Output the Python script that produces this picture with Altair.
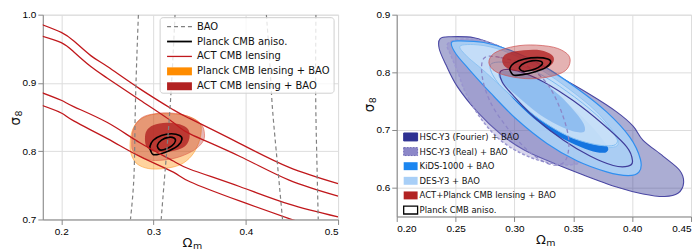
import altair as alt
import pandas as pd

FONT = "DejaVu Sans"

# ---------------- Left panel data (Omega_m, sigma_8) ----------------
BAO_1 = [(0.2836, 1.0), (0.2803, 0.865), (0.2789, 0.767), (0.2750, 0.70)]
BAO_2 = [(0.3233, 1.0), (0.3183, 0.872), (0.3123, 0.767), (0.3083, 0.70)]
BAO_3 = [(0.4223, 1.0), (0.4260, 0.93), (0.4285, 0.87), (0.4330, 0.80), (0.4398, 0.70)]
BAO_4 = [(0.4760, 1.0), (0.4757, 0.89), (0.4768, 0.80), (0.4785, 0.70)]

ACT_LENS_A = [(0.178, 0.986), (0.200, 0.974), (0.214, 0.961), (0.232, 0.940), (0.250, 0.924),
              (0.2857, 0.891), (0.3215, 0.8606), (0.339, 0.848), (0.3932, 0.8115), (0.447, 0.7763), (0.50, 0.7525)]
ACT_LENS_B = [(0.178, 0.969), (0.200, 0.959), (0.214, 0.945), (0.232, 0.924), (0.250, 0.907),
              (0.2857, 0.8746), (0.3215, 0.842), (0.3395, 0.8255), (0.3932, 0.7926), (0.447, 0.7576), (0.50, 0.7342)]
ACT_LENS_C = [(0.178, 0.8863), (0.200, 0.8746), (0.214, 0.865), (0.250, 0.842), (0.2857, 0.812),
              (0.3215, 0.7856), (0.3395, 0.7736), (0.3932, 0.7483), (0.447, 0.7225), (0.50, 0.7038)]
ACT_LENS_D = [(0.178, 0.8676), (0.200, 0.856), (0.214, 0.844), (0.250, 0.8185), (0.2857, 0.792),
              (0.3215, 0.7693), (0.3395, 0.7553), (0.3932, 0.7272), (0.447, 0.7014), (0.4545, 0.698)]

PLANCK_LENS_BAO_95 = [(0.2746, 0.8044), (0.2764, 0.8278), (0.2835, 0.8442), (0.2979, 0.8535), (0.3194, 0.8549),
                      (0.3373, 0.8512), (0.3498, 0.8418), (0.3516, 0.8278), (0.3480, 0.8091), (0.3409, 0.7927),
                      (0.3301, 0.7810), (0.3158, 0.7754), (0.2979, 0.7740), (0.2853, 0.7787), (0.2782, 0.7880)]
ACT_LENS_BAO_95 = [(0.2764, 0.8091), (0.2782, 0.8325), (0.2871, 0.8489), (0.3015, 0.8549), (0.3194, 0.8559),
                   (0.3373, 0.8512), (0.3516, 0.8395), (0.3552, 0.8255), (0.3534, 0.8138), (0.3445, 0.8021),
                   (0.3301, 0.7927), (0.3158, 0.7880), (0.2979, 0.7866), (0.2853, 0.7927), (0.2782, 0.7997)]
ACT_LENS_BAO_68 = [(0.2907, 0.8184), (0.2925, 0.8301), (0.2997, 0.8381), (0.3140, 0.8418), (0.3283, 0.8395),
                   (0.3373, 0.8325), (0.3391, 0.8208), (0.3355, 0.8091), (0.3265, 0.8021), (0.3122, 0.7988),
                   (0.2997, 0.7997), (0.2925, 0.8067)]
PLANCK_ANISO_95 = [(0.2972, 0.7997), (0.2961, 0.8067), (0.2997, 0.8161), (0.3086, 0.8231), (0.3194, 0.8255),
                   (0.3283, 0.8231), (0.3308, 0.8175), (0.3265, 0.8081), (0.3176, 0.8011), (0.3068, 0.7960),
                   (0.2997, 0.7950)]
PLANCK_ANISO_68 = [(0.3050, 0.8044), (0.3043, 0.8091), (0.3086, 0.8161), (0.3158, 0.8203), (0.3222, 0.8194),
                   (0.3237, 0.8147), (0.3201, 0.8081), (0.3140, 0.8035), (0.3079, 0.8016)]

# ---------------- Right panel data ----------------
HSC_FOURIER_95 = [(0.2369, 0.8584), (0.2459, 0.8617), (0.2656, 0.8600), (0.2854, 0.8464), (0.3079, 0.8245),
                  (0.3361, 0.7944), (0.3642, 0.7615), (0.3868, 0.7314), (0.4008, 0.7068), (0.4093, 0.6822),
                  (0.4262, 0.6548), (0.4403, 0.6302), (0.4437, 0.6083), (0.4389, 0.5902), (0.4276, 0.5847),
                  (0.4093, 0.5891), (0.3868, 0.6012), (0.3586, 0.6220), (0.3304, 0.6449), (0.3079, 0.6657),
                  (0.2882, 0.6931), (0.2685, 0.7314), (0.2515, 0.7752), (0.2417, 0.8135), (0.2361, 0.8409)]
HSC_REAL_95 = [(0.2431, 0.8491), (0.2544, 0.8573), (0.2741, 0.8546), (0.2966, 0.8354), (0.3192, 0.8080),
               (0.3417, 0.7697), (0.3586, 0.7205), (0.3642, 0.6767), (0.3600, 0.6493), (0.3473, 0.6395),
               (0.3276, 0.6438), (0.3079, 0.6575), (0.2882, 0.6822), (0.2713, 0.7205), (0.2586, 0.7643),
               (0.2515, 0.8026), (0.2459, 0.8299)]
KIDS_95 = [(0.2465, 0.8518), (0.2544, 0.8546), (0.2741, 0.8518), (0.2966, 0.8382), (0.3248, 0.8108),
           (0.3530, 0.7725), (0.3783, 0.7314), (0.3980, 0.6876), (0.4070, 0.6493), (0.4059, 0.6274),
           (0.3966, 0.6209), (0.3783, 0.6274), (0.3530, 0.6466), (0.3276, 0.6767), (0.3023, 0.7177),
           (0.2797, 0.7643), (0.2614, 0.8053), (0.2501, 0.8327)]
DES_95 = [(0.2544, 0.8464), (0.2741, 0.8464), (0.2966, 0.8327), (0.3220, 0.8053), (0.3473, 0.7697),
          (0.3699, 0.7314), (0.3854, 0.6931), (0.3882, 0.6767), (0.3839, 0.6701), (0.3699, 0.6712),
          (0.3473, 0.6876), (0.3220, 0.7205), (0.2966, 0.7615), (0.2741, 0.8026), (0.2586, 0.8299)]
KIDS_68 = [(0.2882, 0.7971), (0.3023, 0.7998), (0.3220, 0.7834), (0.3445, 0.7478), (0.3642, 0.7095),
           (0.3783, 0.6739), (0.3783, 0.6620), (0.3699, 0.6615), (0.3558, 0.6710), (0.3361, 0.6904),
           (0.3163, 0.7205), (0.2994, 0.7533), (0.2896, 0.7779)]
DES_68 = [(0.2797, 0.8135), (0.2966, 0.8163), (0.3192, 0.7998), (0.3445, 0.7670), (0.3699, 0.7259),
          (0.3854, 0.6904), (0.3868, 0.6767), (0.3797, 0.6723), (0.3642, 0.6767), (0.3445, 0.6904),
          (0.3220, 0.7177), (0.3023, 0.7506), (0.2854, 0.7834)]
KIDS_68_CORE = [(0.2868, 0.7998), (0.2994, 0.8026), (0.3192, 0.7889), (0.3389, 0.7588), (0.3558, 0.7205),
                (0.3600, 0.7013), (0.3558, 0.6958), (0.3417, 0.7041), (0.3220, 0.7259), (0.3023, 0.7588),
                (0.2896, 0.7834)]
HSC_FOURIER_68 = [(0.2887, 0.8026), (0.3023, 0.8026), (0.3248, 0.7834), (0.3501, 0.7506), (0.3755, 0.7095),
                  (0.3952, 0.6712), (0.4003, 0.6466), (0.3966, 0.6373), (0.3839, 0.6384), (0.3642, 0.6548),
                  (0.3417, 0.6822), (0.3192, 0.7177), (0.2994, 0.7588), (0.2896, 0.7834)]
HSC_REAL_68 = [(0.2741, 0.8245), (0.2882, 0.8256), (0.3107, 0.8108), (0.3276, 0.7807), (0.3389, 0.7369),
               (0.3459, 0.6876), (0.3445, 0.6521), (0.3375, 0.6395), (0.3262, 0.6438), (0.3107, 0.6657),
               (0.2938, 0.7041), (0.2797, 0.7478), (0.2727, 0.7916)]
ACT_PLANCK_LENS_BAO_95 = [(0.2783, 0.8163), (0.2825, 0.8327), (0.2966, 0.8436), (0.3135, 0.8475), (0.3332, 0.8436),
                          (0.3445, 0.8327), (0.3473, 0.8190), (0.3431, 0.8026), (0.3304, 0.7927), (0.3135, 0.7889),
                          (0.2966, 0.7927), (0.2839, 0.8015)]
ACT_PLANCK_LENS_BAO_68 = [(0.2896, 0.8217), (0.2938, 0.8327), (0.3079, 0.8382), (0.3220, 0.8382), (0.3318, 0.8299),
                          (0.3332, 0.8190), (0.3276, 0.8080), (0.3149, 0.8026), (0.3008, 0.8026), (0.2924, 0.8091)]

LEFT_LEGEND = ["BAO", "Planck CMB aniso.", "ACT CMB lensing", "Planck CMB lensing + BAO", "ACT CMB lensing + BAO"]
RIGHT_LEGEND = ["HSC-Y3 (Fourier) + BAO", "HSC-Y3 (Real) + BAO", "KiDS-1000  + BAO", "DES-Y3 + BAO",
                "ACT+Planck CMB lensing + BAO", "Planck CMB aniso."]

LEFT_X_TICKS = [0.2, 0.3, 0.4, 0.5]
LEFT_Y_TICKS = [0.7, 0.8, 0.9, 1.0]
RIGHT_X_TICKS = [0.20, 0.25, 0.30, 0.35, 0.40, 0.45]
RIGHT_Y_TICKS = [0.6, 0.7, 0.8, 0.9]

# ---------------- layout ----------------
LW, LH = 297, 206
RW, RH = 296, 203
ONE = alt.Data(values=[{"k": 0}])


def frame(points):
    return pd.DataFrame({"om": [p[0] for p in points], "s8": [p[1] for p in points],
                         "i": list(range(len(points)))})


def make_enc(dom_x, dom_y, tx, ty, fx, fy):
    x = alt.X("om:Q", scale=alt.Scale(domain=dom_x, nice=False, zero=False),
              axis=alt.Axis(values=tx, format=fx, title=None))
    y = alt.Y("s8:Q", scale=alt.Scale(domain=dom_y, nice=False, zero=False),
              axis=alt.Axis(values=ty, format=fy, title=None))
    return x, y


def shape(points, enc, closed=True, fill=None, fill_opacity=1.0, stroke=None, width=1.0,
          dash=None, stroke_opacity=1.0):
    kw = dict(interpolate="cardinal-closed" if closed else "natural", clip=True)
    if fill is not None:
        kw.update(fill=fill, fillOpacity=fill_opacity)
    if stroke is not None:
        kw.update(stroke=stroke, strokeWidth=width, strokeOpacity=stroke_opacity)
    else:
        kw.update(strokeOpacity=0, strokeWidth=0)
    if dash is not None:
        kw.update(strokeDash=dash)
    return alt.Chart(frame(points)).mark_line(**kw).encode(x=enc[0], y=enc[1], order="i:Q")


def txt(label, px, py, size, align="left", angle=0, baseline="middle"):
    return alt.Chart(ONE).mark_text(text=label, align=align, baseline=baseline, fontSize=size, angle=angle,
                                    font=FONT, color="#111").encode(x=alt.value(px), y=alt.value(py))


def hline(px1, px2, py, color, width, dash=None):
    kw = dict(color=color, strokeWidth=width)
    if dash is not None:
        kw["strokeDash"] = dash
    return alt.Chart(ONE).mark_rule(**kw).encode(x=alt.value(px1), x2=alt.value(px2), y=alt.value(py))


def box(px1, px2, py1, py2, fill, stroke=None, width=1.0, dash=None, fill_opacity=1.0, radius=0):
    kw = dict(fill=fill, fillOpacity=fill_opacity, cornerRadius=radius)
    if stroke is not None:
        kw.update(stroke=stroke, strokeWidth=width)
    if dash is not None:
        kw["strokeDash"] = dash
    return alt.Chart(ONE).mark_rect(**kw).encode(x=alt.value(px1), x2=alt.value(px2),
                                                 y=alt.value(py1), y2=alt.value(py2))


def axis_titles(w, h, ytitle_y):
    # x title: Omega with subscript m, y title: sigma with subscript 8 (rotated)
    return [
        txt("Ω", w / 2 + 2, h + 24, 13, align="right"),
        txt("m", w / 2 + 2.5, h + 27, 9.5, align="left"),
        txt("σ", -27, ytitle_y, 13.5, align="right", angle=270),
        txt("8", -23.5, ytitle_y - 0.5, 9.5, align="left", angle=270),
    ]


# ---------------- left panel ----------------
encL = make_enc([0.18, 0.5], [0.7, 1.0], LEFT_X_TICKS, LEFT_Y_TICKS, ".1f", ".1f")
RED = "#b22222"
left_layers = [
    shape(PLANCK_LENS_BAO_95, encL, fill="#ff8c00", fill_opacity=0.38, stroke="#ff9d2e", width=1.0,
          stroke_opacity=0.6),
    shape(ACT_LENS_BAO_95, encL, fill=RED, fill_opacity=0.33, stroke="#e0604a", width=1.0, stroke_opacity=0.6),
    shape(ACT_LENS_BAO_68, encL, fill=RED, fill_opacity=0.8),
    shape(PLANCK_ANISO_95, encL, stroke="black", width=1.6),
    shape(PLANCK_ANISO_68, encL, stroke="black", width=1.6),
]
for ln in (ACT_LENS_A, ACT_LENS_B, ACT_LENS_C, ACT_LENS_D):
    left_layers.append(shape(ln, encL, closed=False, stroke="#c0181c", width=1.3))
for ln in (BAO_1, BAO_2, BAO_3, BAO_4):
    left_layers.append(shape(ln, encL, closed=False, stroke="#808080", width=1.2, dash=[4, 3]))

# legend (upper right)
lx1, lx2, ly1 = LW - 179, LW - 4, 3
row = 15.0
left_layers.append(box(lx1, lx2, ly1, ly1 + 76, "white", stroke="#d0d0d0", width=1.0, fill_opacity=0.8,
                       radius=3))
left_layers += [
    hline(lx1 + 7, lx1 + 32, ly1 + 9, "#808080", 1.3, [4, 3]),
    hline(lx1 + 7, lx1 + 32, ly1 + 9 + row, "black", 1.8),
    hline(lx1 + 7, lx1 + 32, ly1 + 9 + 2 * row, "#c0181c", 1.3),
    box(lx1 + 7, lx1 + 32, ly1 + 5 + 3 * row, ly1 + 13 + 3 * row, "#ff8c00"),
    box(lx1 + 7, lx1 + 32, ly1 + 5 + 4 * row, ly1 + 13 + 4 * row, RED),
]
for k, lab in enumerate(LEFT_LEGEND):
    left_layers.append(txt(lab, lx1 + 37, ly1 + 9 + k * row, 10))
left_layers += axis_titles(LW, LH, LH / 2)

left = alt.layer(*left_layers).properties(width=LW, height=LH)

# ---------------- right panel ----------------
encR = make_enc([0.2, 0.45], [0.55, 0.9], RIGHT_X_TICKS, RIGHT_Y_TICKS, ".2f", ".1f")
right_layers = [
    shape(HSC_FOURIER_95, encR, fill="#2e3192", fill_opacity=0.4, stroke="#4a47a3", width=1.1),
    shape(HSC_REAL_95, encR, fill="#8c87c8", fill_opacity=0.35, stroke="#9a96d0", width=1.5, dash=[3, 2]),
    shape(KIDS_95, encR, fill="#a9cff5", fill_opacity=0.92, stroke="#2f8ff0", width=1.2),
    shape(DES_95, encR, fill="#c6dff8", fill_opacity=0.9, stroke="#8fc4f3", width=1.0),
    shape(KIDS_68, encR, fill="#1575e0", fill_opacity=1.0),
    shape(DES_68, encR, fill="#c6dff8", fill_opacity=0.97, stroke="#7fbcf2", width=1.0),
    shape(KIDS_68_CORE, encR, fill="#8dbcef", fill_opacity=0.95),
    shape(HSC_FOURIER_68, encR, stroke="#3f3c9a", width=1.2),
    shape(HSC_REAL_68, encR, stroke="#8c87c8", width=1.3, dash=[4, 3]),
    shape(ACT_PLANCK_LENS_BAO_95, encR, fill=RED, fill_opacity=0.35, stroke="#d05050", width=1.0,
          stroke_opacity=0.7),
    shape(ACT_PLANCK_LENS_BAO_68, encR, fill=RED, fill_opacity=0.8),
    shape(PLANCK_ANISO_95, encR, stroke="black", width=1.6),
    shape(PLANCK_ANISO_68, encR, stroke="black", width=1.6),
]
rx1, rx2 = 7, 21
ry0 = RH - 80
rrow = 14.7
right_layers += [
    box(rx1, rx2, ry0 - 4, ry0 + 4, "#2e3192", stroke="#2e3192"),
    box(rx1, rx2, ry0 - 4 + rrow, ry0 + 4 + rrow, "#8c87c8", stroke="#6f6ab5", dash=[2, 1]),
    box(rx1, rx2, ry0 - 4 + 2 * rrow, ry0 + 4 + 2 * rrow, "#1b86f0"),
    box(rx1, rx2, ry0 - 4 + 3 * rrow, ry0 + 4 + 3 * rrow, "#a8cff7"),
    box(rx1, rx2, ry0 - 4 + 4 * rrow, ry0 + 4 + 4 * rrow, RED),
    box(rx1, rx2, ry0 - 4 + 5 * rrow, ry0 + 4 + 5 * rrow, "white", stroke="black", width=1.3),
]
for k, lab in enumerate(RIGHT_LEGEND):
    right_layers.append(txt(lab, rx2 + 2, ry0 + k * rrow, 8.5))
right_layers += axis_titles(RW, RH, RH / 2 - 12)

right = alt.layer(*right_layers).properties(width=RW, height=RH)

chart = alt.hconcat(left, right, spacing=59, bounds="flush").properties(
    padding={"left": 0, "top": 0, "right": 0, "bottom": 0}
).configure_view(stroke="#333", strokeWidth=1).configure_axis(
    domain=False, grid=False, tickColor="#222", tickSize=3.5, tickWidth=0.8,
    labelFont=FONT, labelFontSize=9.5, labelColor="#222", labelPadding=2,
).configure(background="white")

chart.save("out.html", embed_options={"renderer": "svg", "actions": False})
